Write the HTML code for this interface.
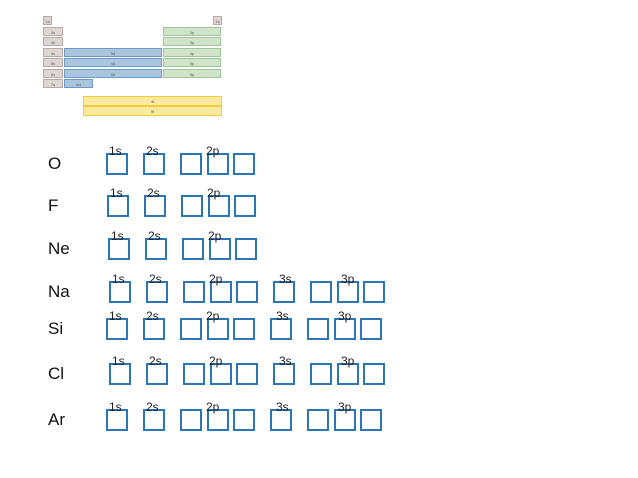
<!DOCTYPE html>
<html><head><style>
body{margin:0;width:638px;height:478px;background:#fff;position:relative;overflow:hidden;font-family:"Liberation Sans",sans-serif}
.c{position:absolute;box-sizing:border-box;font-size:4px;color:#555;text-align:center;line-height:9px}
.s{background:#ddd6d2;border:1px solid #b9aaa5}
.d{background:#a9c6de;border:1px solid #6e9cc4}
.p{background:#cfe4c8;border:1px solid #9dc59a}
.f{background:#fbe9a0;border:1px solid #f0cd3a}
.b{position:absolute;width:22px;height:22px;box-sizing:border-box;border:2.5px solid #2e75b6}
.l{position:absolute;font-size:12px;color:#222}
.e{position:absolute;font-size:17px;color:#111;left:48px}
</style></head><body>
<div class="c s" style="left:43px;top:16px;width:9px;height:9px">1s</div>
<div class="c s" style="left:213px;top:16px;width:9px;height:9px">1s</div>
<div class="c s" style="left:43px;top:27px;width:20px;height:9px">2s</div>
<div class="c s" style="left:43px;top:37px;width:20px;height:9px">3s</div>
<div class="c s" style="left:43px;top:48px;width:20px;height:9px">4s</div>
<div class="c s" style="left:43px;top:58px;width:20px;height:9px">5s</div>
<div class="c s" style="left:43px;top:69px;width:20px;height:9px">6s</div>
<div class="c s" style="left:43px;top:79px;width:20px;height:9px">7s</div>
<div class="c d" style="left:64px;top:48px;width:98px;height:9px">3d</div>
<div class="c d" style="left:64px;top:58px;width:98px;height:9px">4d</div>
<div class="c d" style="left:64px;top:69px;width:98px;height:9px">5d</div>
<div class="c d" style="left:64px;top:79px;width:29px;height:9px">6d</div>
<div class="c p" style="left:163px;top:27px;width:58px;height:9px">2p</div>
<div class="c p" style="left:163px;top:37px;width:58px;height:9px">3p</div>
<div class="c p" style="left:163px;top:48px;width:58px;height:9px">4p</div>
<div class="c p" style="left:163px;top:58px;width:58px;height:9px">5p</div>
<div class="c p" style="left:163px;top:69px;width:58px;height:9px">6p</div>
<div class="c f" style="left:83px;top:96px;width:139px;height:10px">4f</div>
<div class="c f" style="left:83px;top:106px;width:139px;height:10px">5f</div>
<div id="rows"></div>
<script>
var rows=[["O",153,0,0],["F",195,0,1],["Ne",238,0,2],["Na",281,1,3],["Si",318,1,0],["Cl",363,1,3],["Ar",409,1,0]];
var h="";
rows.forEach(function(r){
var y=r[1],dx=r[3];
h+='<div class="e" style="top:'+(y+1)+'px">'+r[0]+'</div>';
var xs=[106,143,180,207,233];if(r[2])xs=xs.concat([270,307,334,360]);
xs.forEach(function(x){h+='<div class="b" style="left:'+(x+dx)+'px;top:'+y+'px"></div>';});
var labs=[["1s",109],["2s",146],["2p",206]];if(r[2])labs=labs.concat([["3s",276],["3p",338]]);
labs.forEach(function(l){h+='<div class="l" style="left:'+(l[1]+dx)+'px;top:'+(y-9)+'px">'+l[0]+'</div>';});
});
document.getElementById("rows").innerHTML=h;
</script>
</body></html>
